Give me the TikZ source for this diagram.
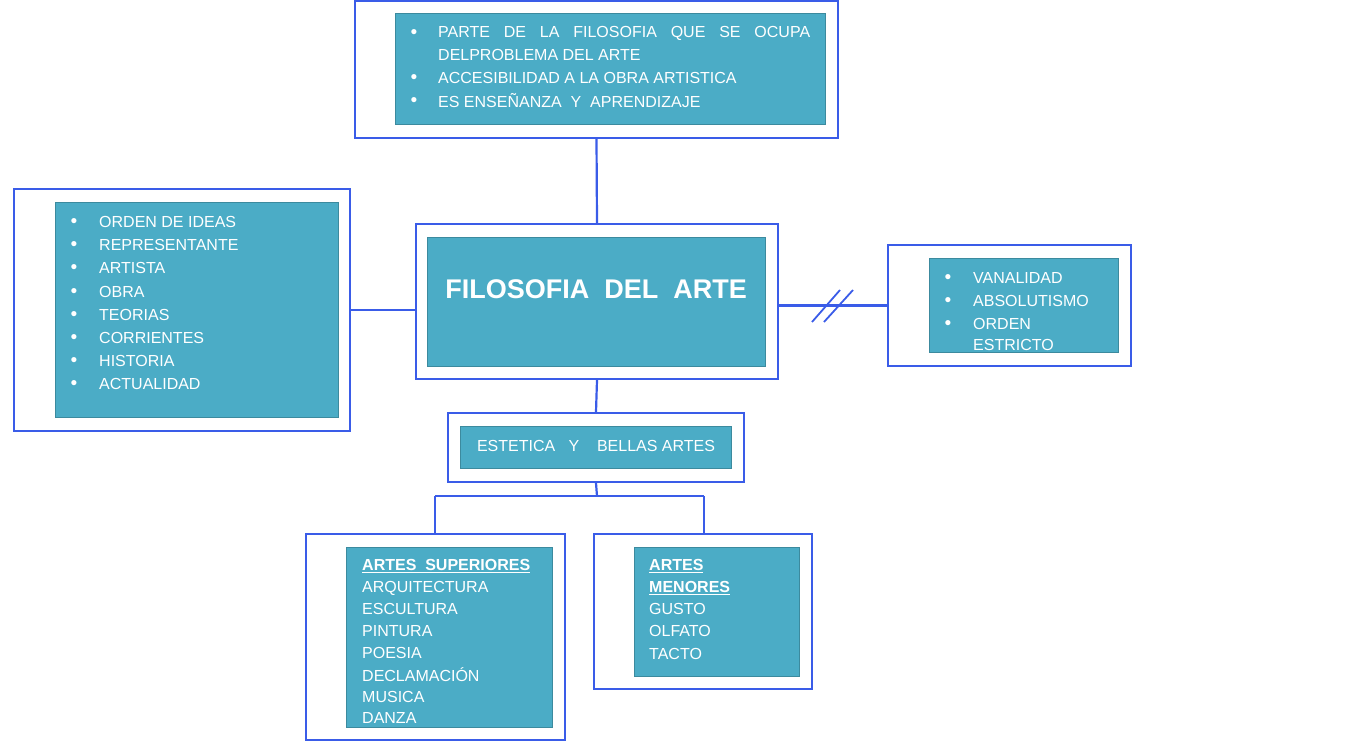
\documentclass[tikz,border=0pt]{standalone}
\usepackage{fontspec}
\setmainfont{Liberation Sans}
\begin{document}
\begin{tikzpicture}[x=1pt,y=-1pt,
  outer/.style={draw=bluel,line width=2.2pt,fill=white,inner sep=0},
  inner/.style={draw=tealb!80!black,line width=0.4pt,fill=tealb,inner sep=0},
  conn/.style={draw=bluel,line width=2.2pt},
  txt/.style={text=white,font=\fontsize{16}{22}\selectfont,anchor=west,inner sep=0},
  bul/.style={text=white,font=\fontsize{12}{12}\selectfont,inner sep=0}]
\definecolor{bluel}{HTML}{3A5CE8}
\definecolor{tealb}{HTML}{4BACC6}
\useasboundingbox (0,0) rectangle (1371,742);
\newcommand{\bx}[5]{\node[outer,minimum width=#3-#1,minimum height=#4-#2] (#5) at ({(#1+#3)/2},{(#2+#4)/2}) {};}
\newcommand{\ib}[5]{\node[inner,minimum width=#3-#1,minimum height=#4-#2] (#5) at ({(#1+#3)/2},{(#2+#4)/2}) {};}
% connectors first
\coordinate (j) at (597,496);
\coordinate (jl) at (435,496);
\coordinate (jr) at (704,496);
\bx{355}{1}{838}{138}{top}
\bx{14}{189}{350}{431}{left}
\bx{416}{224}{778}{379}{main}
\bx{888}{245}{1131}{366}{right}
\bx{448}{413}{744}{482}{est}
\bx{306}{534}{565}{740}{sup}
\bx{594}{534}{812}{689}{men}
\draw[conn] (top.south) -- (main.north);
\draw[conn] (left.east) -- (main.west |- left.east);
\draw[conn] (main.east |- right.west) -- (right.west);
\draw[conn] (main.south) -- (est.north);
\draw[conn] (est.south) -- (j);
\draw[conn] (jl) -- (jr);
\draw[conn] (jl) -- (jl |- sup.north);
\draw[conn] (jr) -- (jr |- men.north);
\coordinate (s1a) at (812,322); \coordinate (s1b) at (840,290);
\coordinate (s2a) at (824,322); \coordinate (s2b) at (853,290);
\draw[conn,line width=1.8pt] (s1a) -- (s1b);
\draw[conn,line width=1.8pt] (s2a) -- (s2b);
\ib{395}{13}{825}{124}{topi}
\ib{55}{202}{338}{417}{lefti}
\ib{427}{237}{765}{366}{maini}
\ib{929}{258}{1118}{352}{righti}
\ib{460}{426}{731}{468}{esti}
\ib{346}{547}{552}{727}{supi}
\ib{634}{547}{799}{676}{meni}
% top texts
\node[txt] (t1) at (438,33) {\hbox to 372pt{PARTE\hfill DE\hfill LA\hfill FILOSOFIA\hfill QUE\hfill SE\hfill OCUPA}};
\node[txt] (t2) at (438,55) {DELPROBLEMA DEL ARTE};
\node[txt] (t3) at (438,78) {ACCESIBILIDAD A LA OBRA ARTISTICA};
\node[txt] (t4) at (438,101) {ES ENSEÑANZA\ \ Y\ \ APRENDIZAJE};
\foreach \y/\n in {33/a,78/b,101/c} \node[bul] (tb\n) at (414,\y) {●};
% left
\foreach \y/\t [count=\i] in {222/ORDEN DE IDEAS,245/REPRESENTANTE,268/ARTISTA,292/OBRA,315/TEORIAS,338/CORRIENTES,361/HISTORIA,384/ACTUALIDAD}{
  \node[bul] (lb\i) at (74,\y) {●};
  \node[txt] (lt\i) at (99,\y) {\t};}
% main
\node[text=white,font=\bfseries\fontsize{27}{30}\selectfont,inner sep=0] (mt) at (596,289) {FILOSOFIA\ \ DEL\ \ ARTE};
% right
\foreach \y/\t [count=\i] in {278/VANALIDAD,301/ABSOLUTISMO,324/ORDEN}{
  \node[bul] (rb\i) at (948,\y) {●};
  \node[txt] (rt\i) at (973,\y) {\t};}
\node[txt] (rt4) at (973,345) {ESTRICTO};
% estetica
\node[txt,anchor=center] (et) at (596,446) {ESTETICA\ \ \ Y\ \ \ \ BELLAS ARTES};
% superiores
\node[txt,font=\bfseries\fontsize{16}{22}\selectfont] (sh) at (362,566) {\underline{ARTES\ \ SUPERIORES}};
\foreach \y/\t [count=\i] in {588/ARQUITECTURA,609/ESCULTURA,631/PINTURA,653/POESIA/,675/DECLAMACIÓN,697/MUSICA/ TEATRO,718/DANZA}
  \node[txt] (st\i) at (362,\y) {\t};
% menores
\node[txt,font=\bfseries\fontsize{16}{22}\selectfont] (mh1) at (649,566) {\underline{ARTES}};
\node[txt,font=\bfseries\fontsize{16}{22}\selectfont] (mh2) at (649,588) {\underline{MENORES}};
\foreach \y/\t [count=\i] in {609/GUSTO,631/OLFATO,654/TACTO}
  \node[txt] (mn\i) at (649,\y) {\t};
\end{tikzpicture}
\end{document}
